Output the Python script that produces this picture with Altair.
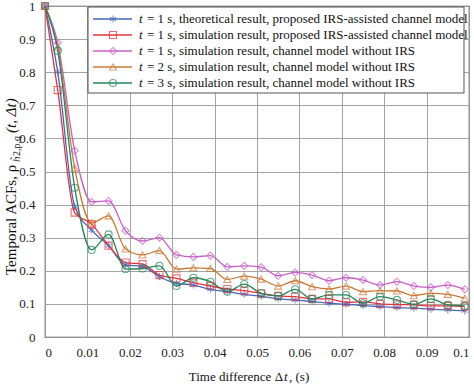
import altair as alt
import pandas as pd

# Time lags (s) at which the temporal ACFs are sampled
dt = [0.0, 0.003, 0.007, 0.011, 0.015, 0.019, 0.023, 0.027, 0.031, 0.035, 0.039, 0.043, 0.047,
      0.051, 0.055, 0.059, 0.063, 0.067, 0.071, 0.075, 0.079, 0.083, 0.087, 0.091, 0.095, 0.099]

theory_irs_t1 = [1.0, 0.801, 0.394, 0.323, 0.276, 0.218, 0.213, 0.182, 0.162, 0.157, 0.144, 0.137, 0.129,
                 0.123, 0.115, 0.112, 0.107, 0.102, 0.099, 0.095, 0.092, 0.089, 0.087, 0.084, 0.082, 0.079]
sim_irs_t1 = [1.0, 0.746, 0.376, 0.341, 0.276, 0.225, 0.220, 0.187, 0.177, 0.164, 0.154, 0.145, 0.140,
              0.132, 0.124, 0.122, 0.115, 0.115, 0.105, 0.106, 0.100, 0.098, 0.097, 0.094, 0.094, 0.092]
sim_noirs_t1 = [1.0, 0.889, 0.563, 0.408, 0.411, 0.321, 0.290, 0.300, 0.248, 0.242, 0.246, 0.212, 0.215,
                0.211, 0.185, 0.195, 0.187, 0.170, 0.179, 0.172, 0.157, 0.167, 0.154, 0.150, 0.157, 0.144]
sim_noirs_t2 = [1.0, 0.875, 0.510, 0.345, 0.366, 0.266, 0.248, 0.261, 0.205, 0.209, 0.207, 0.174, 0.184,
                0.175, 0.154, 0.170, 0.152, 0.145, 0.154, 0.137, 0.140, 0.139, 0.125, 0.132, 0.129, 0.117]
sim_noirs_t3 = [1.0, 0.865, 0.451, 0.263, 0.310, 0.205, 0.207, 0.215, 0.154, 0.179, 0.167, 0.137, 0.160,
                0.132, 0.124, 0.144, 0.115, 0.127, 0.127, 0.102, 0.122, 0.112, 0.099, 0.115, 0.097, 0.094]

series_names = ["theory_irs_t1", "sim_irs_t1", "sim_noirs_t1", "sim_noirs_t2", "sim_noirs_t3"]
series_labels = [
    "= 1 s, theoretical result, proposed IRS-assisted channel model",
    "= 1 s, simulation result, proposed IRS-assisted channel model",
    "= 1 s, simulation result, channel model without IRS",
    "= 2 s, simulation result, channel model without IRS",
    "= 3 s, simulation result, channel model without IRS",
]
series_colors = ["#4468bd", "#e8323a", "#c960c9", "#cc7a35", "#23875a"]
asterisk = "M0,-1L0,1M-0.87,-0.5L0.87,0.5M-0.87,0.5L0.87,-0.5"
series_shapes = [asterisk, "square", "diamond", "triangle-up", "circle"]

x_ticks = [0, 0.01, 0.02, 0.03, 0.04, 0.05, 0.06, 0.07, 0.08, 0.09, 0.1]
y_ticks = [0, 0.1, 0.2, 0.3, 0.4, 0.5, 0.6, 0.7, 0.8, 0.9, 1.0]

values = [theory_irs_t1, sim_irs_t1, sim_noirs_t1, sim_noirs_t2, sim_noirs_t3]
rows = []
for name, vals in zip(series_names, values):
    for x, v in zip(dt, vals):
        rows.append({"series": name, "dt": x, "acf": v})
df = pd.DataFrame(rows)

SERIF = "Liberation Serif"
color_scale = alt.Scale(domain=series_names, range=series_colors)
shape_scale = alt.Scale(domain=series_names, range=series_shapes)

axis_style = dict(title=None, format="~g", labelFont=SERIF, labelFontSize=13, labelColor="#222",
                  grid=True, gridColor="#9a9a9a", gridWidth=0.9, domain=False, ticks=False)
x_enc = alt.X("dt:Q", scale=alt.Scale(domain=[0, 0.1], nice=False),
              axis=alt.Axis(values=x_ticks, labelPadding=9, **axis_style))
y_enc = alt.Y("acf:Q", scale=alt.Scale(domain=[0, 1], nice=False),
              axis=alt.Axis(values=y_ticks, labelPadding=10, **axis_style))

base = alt.Chart(df).encode(
    x=x_enc, y=y_enc,
    color=alt.Color("series:N", scale=color_scale, legend=None),
)
lines = base.mark_line(interpolate="monotone", strokeWidth=1.3).encode(detail="series:N")
points = base.mark_point(filled=False, size=50, strokeWidth=1.1).encode(
    shape=alt.Shape("series:N", scale=shape_scale, legend=None)
)
plot = alt.layer(lines, points)

# Hand-built legend box in the upper right of the plot
leg_df = pd.DataFrame({"row": list(range(5)), "series": series_names, "label": series_labels})
row_y = alt.Y("row:Q", scale=alt.Scale(domain=[0, 4], range=[13, 77]), axis=None)

leg_box = alt.Chart(pd.DataFrame({"a": [0]})).mark_rect(
    fill="white", stroke="#555", strokeWidth=1
).encode(x=alt.value(43), x2=alt.value(419), y=alt.value(1), y2=alt.value(87))

leg_base = alt.Chart(leg_df).encode(y=row_y, color=alt.Color("series:N", scale=color_scale, legend=None))
leg_lines = leg_base.mark_rule(strokeWidth=1.3).encode(x=alt.value(48), x2=alt.value(87))
leg_pts = leg_base.mark_point(filled=False, size=50, strokeWidth=1.1).encode(
    x=alt.value(68), shape=alt.Shape("series:N", scale=shape_scale, legend=None)
)
leg_t = alt.Chart(leg_df).mark_text(
    text="t", font=SERIF, fontSize=13, fontStyle="italic", align="left", baseline="middle", color="#111"
).encode(x=alt.value(94), y=row_y)
leg_text = alt.Chart(leg_df).mark_text(
    font=SERIF, fontSize=13, align="left", baseline="middle", color="#111"
).encode(x=alt.value(102), y=row_y, text="label:N")
legend = alt.layer(leg_box, leg_lines, leg_pts, leg_t, leg_text)

# Axis titles assembled from pieces (italic symbols, subscript)
one = pd.DataFrame({"a": [0]})


def piece(txt, x, y, size, italic=False, angle=0, align="left"):
    kw = dict(text=txt, font=SERIF, fontSize=size, align=align, baseline="alphabetic", color="#111")
    if italic:
        kw["fontStyle"] = "italic"
    if angle:
        kw["angle"] = angle
    return alt.Chart(one).mark_text(**kw).encode(x=alt.value(x), y=alt.value(y))


titles = alt.layer(
    piece("Temporal ACFs, ρ", -29, 269, 15, angle=270),
    piece("h̃", -25, 156, 11, italic=True, angle=270),
    piece("2,p,q", -25, 150, 10, angle=270),
    piece("(t, Δt)", -29, 127, 15, italic=True, angle=270),
    piece("Time difference Δ", 238, 375, 13, align="right"),
    piece("t", 239, 375, 13, italic=True),
    piece(",   (s)", 244, 375, 13),
)

chart = alt.layer(plot, legend, titles).resolve_scale(y="independent").properties(
    width=424, height=331,
    autosize=alt.AutoSizeParams(type="none"),
    padding={"left": 45, "top": 6, "right": 5, "bottom": 47},
).configure_view(
    stroke="#555", strokeWidth=1.2
).configure_axis(
    labelFont=SERIF
)

chart.save("out.html", embed_options={"renderer": "svg", "actions": False})
